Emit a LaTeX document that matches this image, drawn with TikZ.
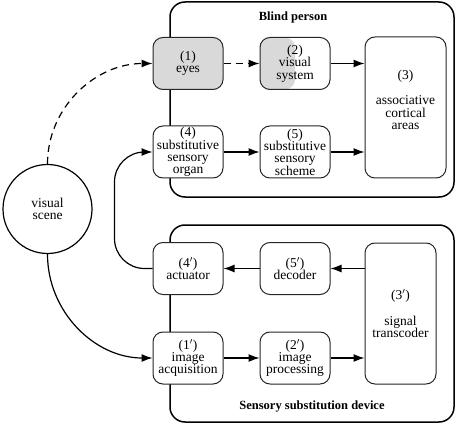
\documentclass[tikz,border=0pt]{standalone}
\usepackage{fontspec}
\setmainfont{Liberation Serif}
\usetikzlibrary{arrows.meta, positioning}

\begin{document}
\begin{tikzpicture}[x=1pt, y=-1pt,
  group/.style={rectangle, rounded corners=15pt, draw, line width=1.5pt,
                minimum width=284pt, minimum height=195pt},
  block/.style={rectangle, rounded corners=10pt, draw=black!85, line width=1pt,
                fill=white, minimum width=70pt, minimum height=52pt, align=center,
                inner sep=0.5pt},
  tall/.style={block, minimum height=141pt},
  title/.style={font=\bfseries\fontsize{12.5}{12.5}\selectfont},
  link/.style={-{Latex[length=11pt, width=8pt]}, line width=1.2pt},
  gap/.style={dash pattern=on 7pt off 5pt},
  every node/.style={font=\fontsize{13.5}{12.3}\selectfont}
]
  \useasboundingbox (0,0) rectangle (474,441);

  % the two frames
  \node[group] (blind) at (312,99.5) {};
  \node[group, minimum height=197pt] (device) at (312,323.5) {};
  \node[title] (blindlbl) at (293,17) {Blind person};
  \node[title] (devicelbl) at (312,407) {Sensory substitution device};

  % blind person
  \node[block, fill=gray!30] (eyes) at (188,63.5) {(1)\\eyes};
  \node[block, right=36pt of eyes,
        path picture={\fill[gray!30] (path picture bounding box.south west)
                      rectangle (path picture bounding box.north);}]
        (vis) {(2)\\visual\\system};
  \node[tall, minimum width=81pt] (cort) at (405.5,107.5) {};
  \node[align=center] (corttxt) at (405.5,100) {(3)\\[13pt]associative\\cortical\\areas};
  \node[block] (sso) at (188,152) {(4)\\substitutive\\sensory\\organ};
  \node[block, right=36pt of sso] (sss) {(5)\\substitutive\\sensory\\scheme};

  % device
  \node[block] (act) at (188,268.5) {(4$'$)\\actuator};
  \node[block, right=36pt of act] (dec) {(5$'$)\\decoder};
  \node[tall, minimum width=71pt] (trans) at (400.5,313.5) {(3$'$)\\[13pt]signal\\transcoder};
  \node[block] (acq) at (188,358) {(1$'$)\\image\\acquisition};
  \node[block, right=36pt of acq] (proc) {(2$'$)\\image\\processing};

  \node[circle, draw, line width=1.2pt, minimum size=89pt, align=center]
        (scene) at (47.5,209) {visual\\scene};

  \draw[link, gap] (eyes) -- (vis);
  \draw[link] (vis.east) -- (vis.east -| cort.west);
  \draw[link] (sso) -- (sss);
  \draw[link] (sss.east) -- (sss.east -| cort.west);
  \draw[link] (dec.east -| trans.west) -- (dec.east);
  \draw[link] (dec) -- (act);
  \draw[link] (acq) -- (proc);
  \draw[link] (proc.east) -- (proc.east -| trans.west);

  \draw[link, gap] (scene.north) to[out=90, in=180] (eyes.west);
  \draw[link] (scene.south) to[out=-90, in=180] (acq.west);
  \draw[link, rounded corners=30pt] (act.west) -- ++(-38,0) |- (sso.west);
\end{tikzpicture}
\end{document}
